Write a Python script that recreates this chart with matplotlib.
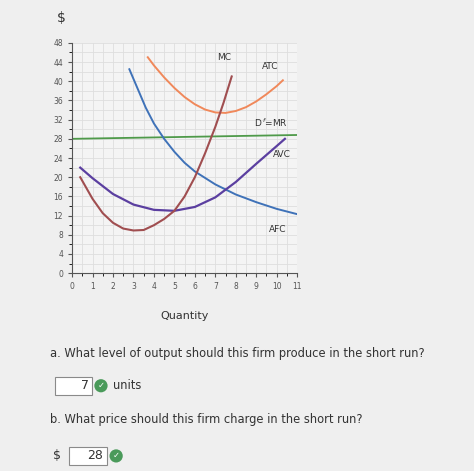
import matplotlib
matplotlib.use("Agg")
import matplotlib.pyplot as plt
from matplotlib.patches import Rectangle, Circle

mc_x = [0.4, 1, 1.5, 2, 2.5, 3, 3.5, 4, 4.5, 5, 5.5, 6, 6.5, 7, 7.4, 7.8]
mc_y = [20, 15.5, 12.5, 10.5, 9.3, 8.9, 9.0, 10, 11.3, 13, 16, 20, 25, 30.5, 35.5, 41]
avc_x = [0.4, 1, 2, 3, 4, 5, 6, 7, 8, 9, 10, 10.4]
avc_y = [22, 19.8, 16.5, 14.3, 13.2, 13, 13.8, 15.8, 19, 22.8, 26.5, 28]
afc_x = [2.8, 3.2, 3.6, 4, 4.5, 5, 5.5, 6, 7, 8, 9, 10, 11]
afc_y = [42.5, 38.5, 34.5, 31.2, 28, 25.3, 23, 21.2, 18.5, 16.4, 14.8, 13.4, 12.3]
atc_x = [3.7, 4, 4.5, 5, 5.5, 6, 6.5, 7, 7.5, 8, 8.5, 9, 9.5, 10, 10.3]
atc_y = [45, 43.3, 40.8, 38.6, 36.7, 35.2, 34.1, 33.5, 33.4, 33.8, 34.6, 35.8, 37.3, 39, 40.2]
mr_x = [0, 11]
mr_y = [28, 28.8]
x_ticks = list(range(0, 12))
y_ticks = list(range(0, 49, 4))

bg = "#efefef"
fig = plt.figure(figsize=(4.74, 4.71), dpi=100, facecolor=bg)
ax = fig.add_axes([0.152, 0.42, 0.475, 0.489], facecolor="#f4f4f4")
ax.plot(mr_x, mr_y, color="#4f9a4a", lw=1.3)
ax.plot(afc_x, afc_y, color="#3f72b8", lw=1.4)
ax.plot(atc_x, atc_y, color="#f0885a", lw=1.4)
ax.plot(avc_x, avc_y, color="#5b3fa0", lw=1.6)
ax.plot(mc_x, mc_y, color="#a04e50", lw=1.5)
ax.set_xlim(0, 11); ax.set_ylim(0, 48)
ax.set_xticks(x_ticks); ax.set_yticks(y_ticks)
ax.set_xticks([i/2 for i in range(23)], minor=True)
ax.set_yticks(range(0, 49, 2), minor=True)
ax.grid(True, which="both", color="#dedede", lw=0.6)
ax.tick_params(labelsize=5.5, colors="#555555", length=3)
for s in ["top", "right"]:
    ax.spines[s].set_visible(False)
for s in ["left", "bottom"]:
    ax.spines[s].set_color("#555555")
lab = dict(fontsize=6.5, color="#333333")
ax.text(7.1, 44.5, "MC", **lab)
ax.text(9.3, 42.5, "ATC", **lab)
ax.text(8.9, 30.5, "D$^{\\,f}$=MR", **lab)
ax.text(9.8, 24.2, "AVC", **lab)
ax.text(9.6, 8.5, "AFC", **lab)

fig.text(0.13, 0.962, "$", fontsize=10, color="#333333", ha="center", va="center")
fig.text(0.39, 0.33, "Quantity", fontsize=8, color="#333333", ha="center", va="center")
fig.text(0.105, 0.25, "a. What level of output should this firm produce in the short run?", fontsize=8.3, color="#333333", va="center")
fig.text(0.105, 0.11, "b. What price should this firm charge in the short run?", fontsize=8.3, color="#333333", va="center")
# answer boxes
fig.patches.append(Rectangle((0.115, 0.162), 0.08, 0.038, transform=fig.transFigure, fc="white", ec="#8a8a8a", lw=0.8))
fig.text(0.188, 0.181, "7", fontsize=9, color="#333333", ha="right", va="center")
fig.patches.append(Circle((0.213, 0.181), 0.014, transform=fig.transFigure, fc="#4a9a5a", ec="none"))
fig.text(0.213, 0.181, "✓", fontsize=6, color="white", ha="center", va="center", fontweight="bold")
fig.text(0.238, 0.181, "units", fontsize=8.3, color="#333333", va="center")
fig.text(0.12, 0.032, "$", fontsize=9, color="#333333", ha="center", va="center")
fig.patches.append(Rectangle((0.145, 0.013), 0.08, 0.038, transform=fig.transFigure, fc="white", ec="#8a8a8a", lw=0.8))
fig.text(0.218, 0.032, "28", fontsize=9, color="#333333", ha="right", va="center")
fig.patches.append(Circle((0.245, 0.032), 0.014, transform=fig.transFigure, fc="#4a9a5a", ec="none"))
fig.text(0.245, 0.032, "✓", fontsize=6, color="white", ha="center", va="center", fontweight="bold")
fig.savefig("out.png", dpi=100, facecolor=bg)
